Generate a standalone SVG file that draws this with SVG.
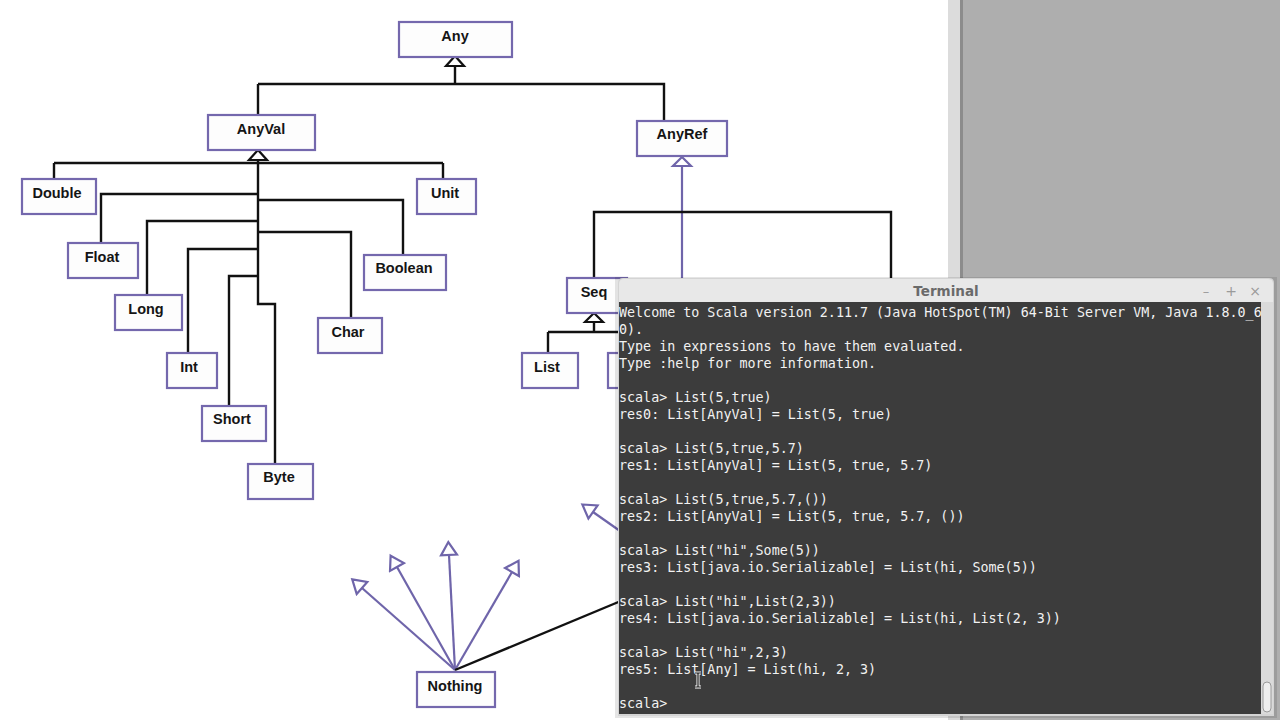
<svg xmlns="http://www.w3.org/2000/svg" width="1280" height="720" viewBox="0 0 1280 720">
<style>
.box{fill:#fdfdfd;stroke:#7468ad;stroke-width:2.2}
.lbl{font-family:"Liberation Sans",Arial,sans-serif;font-weight:bold;font-size:14.5px;fill:#151515;text-anchor:middle}
.ln{fill:none;stroke:#111;stroke-width:2.4}
.pl{fill:none;stroke:#6f65aa;stroke-width:2.2}
.tri{fill:#fff;stroke:#111;stroke-width:2.2;stroke-linejoin:miter}
.ptri{fill:#fff;stroke:#6f65aa;stroke-width:2.2}
.term{font-family:"DejaVu Sans Mono","Liberation Mono",monospace;font-size:13.35px;fill:#f2f2f2}
</style>
<defs>
<marker id="open" viewBox="0 0 20 20" refX="2" refY="10" markerWidth="20" markerHeight="20" markerUnits="userSpaceOnUse" orient="auto">
<path d="M2,10 L15,2 L15,18 Z" fill="#fff" stroke="#6f65aa" stroke-width="2.2" transform="rotate(180 10 10) translate(3 0)"/>
</marker>
</defs>
<rect x="0" y="0" width="1280" height="720" fill="#ffffff"/>
<rect x="948" y="0" width="12" height="720" fill="#dcdcdc"/>
<rect x="960" y="0" width="3" height="720" fill="#8c8c8c"/>
<rect x="963" y="0" width="317" height="720" fill="#aeaeae"/>

<g id="connectors">
<path class="ln" d="M455,66 V84 M258,84 H664 V121 M258,84 V115"/>
<polygon class="tri" points="455,56 446,66 464,66"/>
<path class="ln" d="M258,160 V304 H275 V464 M54,163 H443 M54,163 V179 M443,163 V179"/>
<polygon class="tri" points="258,150 249,160 267,160"/>
<path class="ln" d="M258,194 H101 V243 M258,200 H403 V255 M258,221 H147 V295 M258,232 H351 V318 M258,249 H188 V353 M258,276 H229 V406"/>
<path class="pl" d="M682,166 V290"/>
<polygon class="ptri" points="682,157 673,166 691,166"/>
<path class="ln" d="M594,278 V212 H891 V290"/>
<polygon class="tri" points="594,313 585,322 603,322"/>
<path class="ln" d="M594,322 V332 M548,332 H640 M548,332 V353"/>
<path class="pl" marker-end="url(#open)" d="M455,670 L362,588"/>
<path class="pl" marker-end="url(#open)" d="M455,670 L397,567"/>
<path class="pl" marker-end="url(#open)" d="M455,670 L449,555"/>
<path class="pl" marker-end="url(#open)" d="M455,670 L512,572"/>
<path class="pl" marker-end="url(#open)" d="M630,538 L593,512"/>
<path class="ln" d="M455,670 L640,593" stroke-width="2"/>
</g>

<g id="n-any"><rect class="box" x="399" y="22" width="113" height="35"/><text class="lbl" x="455" y="41">Any</text></g>
<g id="n-anyval"><rect class="box" x="208" y="115" width="107" height="35"/><text class="lbl" x="261" y="134">AnyVal</text></g>
<g id="n-anyref"><rect class="box" x="637" y="121" width="90" height="35"/><text class="lbl" x="682" y="139">AnyRef</text></g>
<g id="n-double"><rect class="box" x="22" y="179" width="74" height="35"/><text class="lbl" x="57" y="198">Double</text></g>
<g id="n-unit"><rect class="box" x="417" y="179" width="59" height="35"/><text class="lbl" x="445" y="198">Unit</text></g>
<g id="n-float"><rect class="box" x="68" y="243" width="70" height="35"/><text class="lbl" x="102" y="262">Float</text></g>
<g id="n-boolean"><rect class="box" x="364" y="255" width="82" height="35"/><text class="lbl" x="404" y="273">Boolean</text></g>
<g id="n-long"><rect class="box" x="115" y="295" width="67" height="35"/><text class="lbl" x="146" y="314">Long</text></g>
<g id="n-char"><rect class="box" x="318" y="318" width="64" height="35"/><text class="lbl" x="348" y="337">Char</text></g>
<g id="n-int"><rect class="box" x="167" y="353" width="50" height="35"/><text class="lbl" x="189" y="372">Int</text></g>
<g id="n-short"><rect class="box" x="202" y="406" width="64" height="35"/><text class="lbl" x="232" y="424">Short</text></g>
<g id="n-byte"><rect class="box" x="248" y="464" width="65" height="35"/><text class="lbl" x="279" y="482">Byte</text></g>
<g id="n-seq"><rect class="box" x="567" y="278" width="60" height="35"/><text class="lbl" x="594" y="297">Seq</text></g>
<g id="n-list"><rect class="box" x="522" y="353" width="56" height="35"/><text class="lbl" x="547" y="372">List</text></g>
<g id="n-hidden"><rect class="box" x="608" y="353" width="60" height="35"/></g>
<g id="n-nothing"><rect class="box" x="417" y="672" width="78" height="35"/><text class="lbl" x="455" y="691">Nothing</text></g>

<g id="terminal">
<rect x="615" y="277" width="662" height="441" fill="#000" opacity="0.1"/>
<path d="M618,283 Q618,278 623,278 H1269 Q1274,278 1274,283 V716 H618 Z" fill="#d4d4d4"/>
<path d="M619,284 Q619,279 624,279 H1268 Q1273,279 1273,284 V302 H619 Z" fill="#e8e8e8"/>
<text x="946" y="296" text-anchor="middle" font-family="DejaVu Sans,sans-serif" font-size="13.5" font-weight="bold" fill="#6a6a6a">Terminal</text>
<text x="1206" y="296" text-anchor="middle" font-family="DejaVu Sans,sans-serif" font-size="13" fill="#9a9a9a">–</text>
<text x="1231" y="296" text-anchor="middle" font-family="DejaVu Sans,sans-serif" font-size="14" fill="#9a9a9a">+</text>
<text x="1255" y="296" text-anchor="middle" font-family="DejaVu Sans,sans-serif" font-size="14" fill="#9a9a9a">×</text>
<rect x="619" y="302" width="642" height="412" fill="#3c3c3c"/>
<rect x="1261" y="302" width="12" height="412" fill="#dadada"/>
<rect x="1263" y="682" width="8" height="30" rx="4" fill="#eeeeee" stroke="#9a9a9a" stroke-width="1"/>
<g class="term">
<text x="619" y="317">Welcome to Scala version 2.11.7 (Java HotSpot(TM) 64-Bit Server VM, Java 1.8.0_6</text>
<text x="619" y="334">0).</text>
<text x="619" y="351">Type in expressions to have them evaluated.</text>
<text x="619" y="368">Type :help for more information.</text>
<text x="619" y="402">scala&gt; List(5,true)</text>
<text x="619" y="419">res0: List[AnyVal] = List(5, true)</text>
<text x="619" y="453">scala&gt; List(5,true,5.7)</text>
<text x="619" y="470">res1: List[AnyVal] = List(5, true, 5.7)</text>
<text x="619" y="504">scala&gt; List(5,true,5.7,())</text>
<text x="619" y="521">res2: List[AnyVal] = List(5, true, 5.7, ())</text>
<text x="619" y="555">scala&gt; List("hi",Some(5))</text>
<text x="619" y="572">res3: List[java.io.Serializable] = List(hi, Some(5))</text>
<text x="619" y="606">scala&gt; List("hi",List(2,3))</text>
<text x="619" y="623">res4: List[java.io.Serializable] = List(hi, List(2, 3))</text>
<text x="619" y="657">scala&gt; List("hi",2,3)</text>
<text x="619" y="674">res5: List[Any] = List(hi, 2, 3)</text>
<text x="619" y="708">scala&gt;</text>
</g>
<path d="M695,673 H701 M698,673 V687 M695,687 H701" stroke="#fff" stroke-width="3"/>
<path d="M695,673 H701 M698,673 V687 M695,687 H701" stroke="#111" stroke-width="1.2"/>
</g>
</svg>
